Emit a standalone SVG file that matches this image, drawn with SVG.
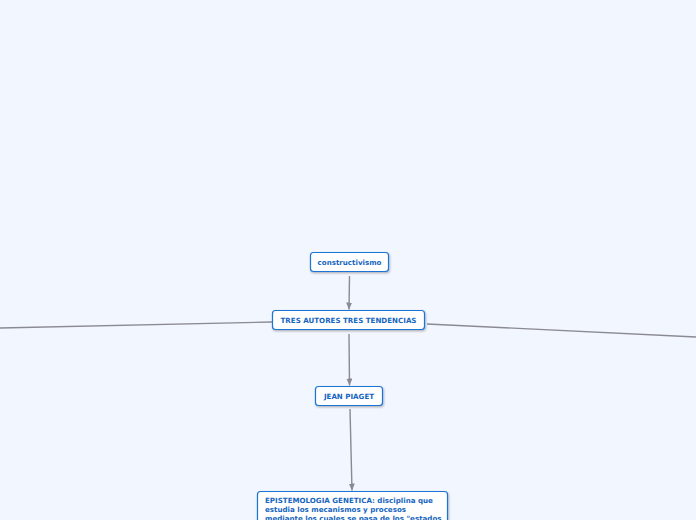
<svg xmlns="http://www.w3.org/2000/svg" width="696" height="520" viewBox="0 0 696 520">
<defs>
<style>
.node rect{fill:#ffffff;stroke:#1c74d6;stroke-width:1.2;filter:url(#sh)}
.node text{font-family:"DejaVu Sans",Verdana,sans-serif;font-weight:bold;font-size:7.1px;fill:#1565c0}
.conn path{fill:none;stroke:#8a8a94;stroke-width:1.4}
</style>
<filter id="sh" x="-10%" y="-30%" width="120%" height="160%">
<feDropShadow dx="0.8" dy="1.2" stdDeviation="0.8" flood-color="#000" flood-opacity="0.3"/>
</filter>
<marker id="ah" markerWidth="8" markerHeight="6" refX="7" refY="3" orient="auto" markerUnits="userSpaceOnUse">
<path d="M0,0 L7,3 L0,6 Z" fill="#8a8a94"/>
</marker>
</defs>
<rect width="696" height="520" fill="#f2f6fe"/>
<g class="conn">
<path d="M349.5,276 L349,309.5" marker-end="url(#ah)"/>
<path d="M349,334 L349.5,385.5" marker-end="url(#ah)"/>
<path d="M350,409 L352,490.5" marker-end="url(#ah)"/>
<path d="M272,322 L0,328"/>
<path d="M427,324 L696,337"/>
</g>
<g id="n-constructivismo" class="node">
<rect x="310.5" y="252.5" width="78" height="19" rx="3"/>
<text x="349.5" y="265" text-anchor="middle">constructivismo</text>
</g>
<g id="n-tres" class="node">
<rect x="272.5" y="310.5" width="152" height="19" rx="3"/>
<text x="348.5" y="323" text-anchor="middle">TRES AUTORES TRES TENDENCIAS</text>
</g>
<g id="n-piaget" class="node">
<rect x="315.5" y="386.5" width="67" height="19" rx="3"/>
<text x="349" y="399" text-anchor="middle">JEAN PIAGET</text>
</g>
<g id="n-epistemologia" class="node">
<rect x="257.5" y="491.5" width="190" height="40" rx="3"/>
<text x="265" y="503">EPISTEMOLOGIA GENETICA: disciplina que</text>
<text x="265" y="512">estudia los mecanismos y  procesos</text>
<text x="265" y="521">mediante los cuales se pasa de los "estados</text>
</g>
</svg>
